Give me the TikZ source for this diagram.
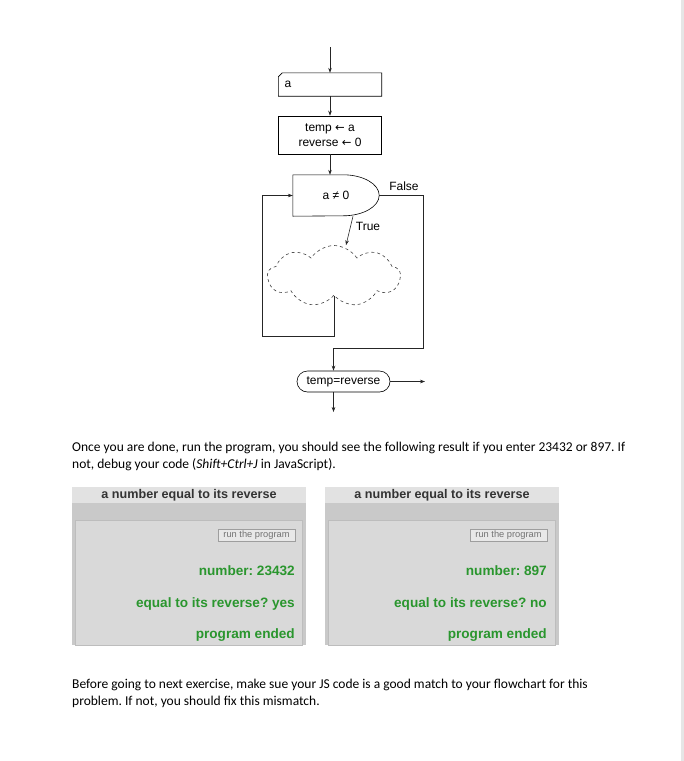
\documentclass[tikz,border=0pt]{standalone}
\usepackage{fontspec}
\setmainfont{Carlito}
\newfontfamily\arialfont{Liberation Sans}
\newfontfamily\symfont{DejaVu Sans}
\usetikzlibrary{arrows.meta, positioning, shapes.symbols, calc}
\definecolor{pageEdge}{HTML}{E6E6E6}
\definecolor{panelFrame}{HTML}{C9C9C9}
\definecolor{panelTitle}{HTML}{E2E2E2}
\definecolor{panelBody}{HTML}{D9D9D9}
\definecolor{panelLine}{HTML}{BDBDBD}
\definecolor{okGreen}{HTML}{2A962E}
\newcommand{\getsarrow}{{\symfont\fontsize{11.5}{15}\selectfont ←}}

\begin{document}
\frenchspacing
\begin{tikzpicture}[x=1pt, y=-1pt,
    flow/.style={draw=black!85, line width=0.6pt, -{Stealth[length=5pt, width=3.6pt]}},
    chart/.style={inner sep=0pt, font=\arialfont\fontsize{12}{15}\selectfont},
    para/.style={anchor=base west, inner sep=0pt, font=\fontsize{13.5}{15}\selectfont},
    paneltitle/.style={inner sep=0pt, text=black!80, font=\arialfont\bfseries\fontsize{12.6}{14}\selectfont},
    runbtn/.style={draw=black!38, fill=black!9, text=black!55, minimum width=77pt, minimum height=12pt, inner sep=0pt, font=\arialfont\fontsize{9.3}{10}\selectfont},
    result/.style={anchor=east, inner sep=0pt, text=okGreen, font=\arialfont\bfseries\fontsize{13.6}{15}\selectfont}]
    \useasboundingbox (0,0) rectangle (684,761);
    \fill[pageEdge] (681,0) rectangle (684,761);

    % flowchart
    \coordinate (start) at (330,47);
    \node[chart, minimum height=23pt, text width=91pt, inner xsep=6pt, align=left] (inp) at (330,84.5) {a};
    \draw[line width=0.6pt] (inp.south west) -- ([yshift=-4pt]inp.north west) -- ([xshift=4pt]inp.north west)
        -- (inp.north east) -- (inp.south east) -- cycle;
    \node[chart, draw, line width=0.6pt, minimum width=103pt, minimum height=38pt, align=center] (init) at (330,135)
        {temp \getsarrow{} a\\reverse \getsarrow{} 0};
    \node[chart, minimum width=86pt, minimum height=41pt] (cond) at (336,195.5) {a ≠ 0};
    \draw[line width=0.6pt] (cond.south west) -- (cond.north west) -- ($(cond.north east)+(-36,0)$)
        arc[start angle=90, end angle=-90, x radius=36pt, y radius=20.5pt] -- cycle;
    \node[cloud, cloud puffs=9, cloud puff arc=115, aspect=2.3, draw=black!75, dashed, line width=0.6pt,
        minimum width=133pt, minimum height=61pt] (body) at (334,276) {};
    \node[chart] (lblTrue) at (368,226) {True};
    \node[chart] (lblFalse) at (404,186) {False};
    \node[chart, draw, line width=0.6pt, rounded corners=10.5pt, minimum width=93pt, minimum height=21pt]
        (out) at (343.5,381.5) {temp=reverse};
    \coordinate (loop) at (262,336);
    \coordinate (next) at (425,381.5);
    \coordinate (stop) at (333.5,412);

    \draw[flow] (start) -- (inp.north);
    \draw[flow] (inp) -- (init);
    \draw[flow] (init) -- (init.south |- cond.north);
    \draw[flow] ([xshift=17pt]cond.south) -- ([xshift=12pt]body.north);
    \draw[flow] (body.south) -- (body.south |- loop) -- (loop) |- (cond.west);
    \draw[flow] (cond.east) -- ++(44,0) -- ++(0,153) -| ([xshift=-10pt]out.north);
    \draw[flow] (out.east) -- (next);
    \draw[flow] ([xshift=-10pt]out.south) -- (stop);

    % text
    \node[para] (intro1) at (72,451) {Once you are done, run the program, you should see the following result if you enter 23432 or 897. If};
    \node[para] (intro2) at (72,468) {not, debug your code (\textit{Shift+Ctrl+J} in JavaScript).};

    % left result
    \fill[panelFrame] (72,487) rectangle (306,645);
    \fill[panelTitle] (72,487) rectangle (306,503);
    \filldraw[fill=panelBody, draw=panelLine] (75,520) rectangle (302,645);
    \node[paneltitle] (titleL) at (189,495.5) {a number equal to its reverse};
    \node[runbtn] (runL) at (256.5,535) {run the program};
    \node[result] (numL) at (295,571) {number: 23432};
    \node[result] (ansL) at (295,604) {equal to its reverse? yes};
    \node[result] (endL) at (295,635) {program ended};

    % right result
    \fill[panelFrame] (325,487) rectangle (559,645);
    \fill[panelTitle] (325,487) rectangle (559,503);
    \filldraw[fill=panelBody, draw=panelLine] (328,520) rectangle (555,645);
    \node[paneltitle] (titleR) at (442,495.5) {a number equal to its reverse};
    \node[runbtn] (runR) at (508.5,535) {run the program};
    \node[result] (numR) at (547,571) {number: 897};
    \node[result] (ansR) at (547,604) {equal to its reverse? no};
    \node[result] (endR) at (547,635) {program ended};

    \node[para] (outro1) at (72,688) {Before going to next exercise, make sue your JS code is a good match to your flowchart for this};
    \node[para] (outro2) at (72,705) {problem. If not, you should fix this mismatch.};
\end{tikzpicture}
\end{document}
